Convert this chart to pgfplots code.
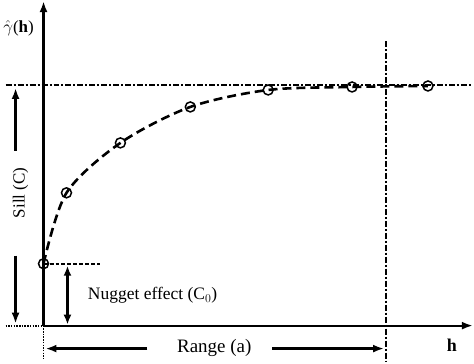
\documentclass[border=0pt]{standalone}
\usepackage{fontspec}
\setmainfont{Liberation Serif}
\usepackage{pgfplots}
\pgfplotsset{compat=1.18}
\usetikzlibrary{arrows.meta}
\begin{document}
\begin{tikzpicture}
\begin{axis}[x=1pt,y=1pt,xmin=0,xmax=474,ymin=0,ymax=363,hide axis,scale only axis,clip=false]
\path (axis cs:0,0) rectangle (axis cs:474,363);
% axes
\draw[line width=2.2pt,-{Latex[length=11pt,width=8pt]}] (axis cs:43,38) -- (axis cs:43,363);
\draw[line width=2.2pt,-{Latex[length=11pt,width=8pt]}] (axis cs:43,38) -- (axis cs:473,38);
\draw[line width=1.8pt,dash pattern=on 1.5pt off 1.2pt] (axis cs:43,38) -- (axis cs:43,5);
\draw[line width=1.8pt,dash pattern=on 1.5pt off 1.2pt] (axis cs:5,38) -- (axis cs:43,38);
% sill and range lines
\draw[line width=2pt,dash pattern=on 6pt off 2pt on 2pt off 2pt] (axis cs:5,279) -- (axis cs:472,279);
\draw[line width=2pt,dash pattern=on 6pt off 2pt on 2pt off 2pt] (axis cs:386,323) -- (axis cs:386,2);
% sill arrows
\draw[line width=2.2pt,-{Latex[length=11pt,width=8pt]}] (axis cs:15,213) -- (axis cs:15,276);
\draw[line width=2.2pt,-{Latex[length=11pt,width=8pt]}] (axis cs:15,108) -- (axis cs:15,40);
\node[rotate=90,font=\fontsize{17}{19}\selectfont] at (axis cs:20,171) {Sill (C)};
% nugget
\draw[line width=2pt,dash pattern=on 4pt off 2pt] (axis cs:43,100) -- (axis cs:100,100);
\draw[line width=2.2pt,{Latex[length=10pt,width=8pt]}-{Latex[length=10pt,width=8pt]}] (axis cs:67,98) -- (axis cs:67,39);
\node[anchor=west,font=\fontsize{17.5}{19}\selectfont] at (axis cs:84,68) {Nugget effect (C$_0$)};
% range
\draw[line width=2.2pt,-{Latex[length=11pt,width=8pt]}] (axis cs:147,15) -- (axis cs:45,15);
\draw[line width=2.2pt,-{Latex[length=11pt,width=8pt]}] (axis cs:272,15) -- (axis cs:384,15);
\node[font=\fontsize{19}{21}\selectfont] at (axis cs:214,16) {Range (a)};
\node[font=\fontsize{18}{20}\selectfont\bfseries] at (axis cs:452,18) {h};
\node[font=\fontsize{17}{19}\selectfont] at (axis cs:18,336) {$\hat{\gamma}$(\textbf{h})};
% data
\addplot[black,line width=2.6pt,dash pattern=on 9pt off 5pt,smooth,mark=o,mark size=5pt,mark options={solid,fill=white,line width=1.5pt}] coordinates {
(43,100) (66,171) (120,221) (190,257) (268,274) (352,277) (428,278)};
\end{axis}
\end{tikzpicture}
\end{document}
